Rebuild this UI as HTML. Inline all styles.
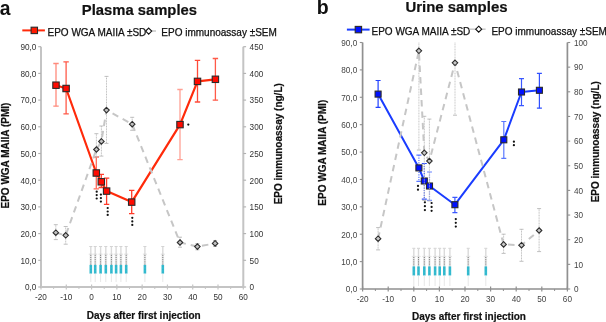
<!DOCTYPE html><html><head><meta charset="utf-8"><style>html,body{margin:0;padding:0;background:#fff;}svg{display:block;will-change:transform;}text{font-family:"Liberation Sans",sans-serif;}</style></head><body>
<svg width="606" height="322" viewBox="0 0 606 322">
<rect width="606" height="322" fill="#fff"/>
<path d="M41 46.7V287H243.3V46.7" fill="none" stroke="#c4c4c4" stroke-width="2"/>
<path d="M38.2 287H41" stroke="#b0b0b0" stroke-width="1.1"/>
<text x="36.4" y="290.3" font-size="8.2" text-anchor="end" font-weight="normal" fill="#333">0,0</text>
<path d="M38.2 260.3H41" stroke="#b0b0b0" stroke-width="1.1"/>
<text x="36.4" y="263.6" font-size="8.2" text-anchor="end" font-weight="normal" fill="#333">10,0</text>
<path d="M38.2 233.6H41" stroke="#b0b0b0" stroke-width="1.1"/>
<text x="36.4" y="236.9" font-size="8.2" text-anchor="end" font-weight="normal" fill="#333">20,0</text>
<path d="M38.2 206.9H41" stroke="#b0b0b0" stroke-width="1.1"/>
<text x="36.4" y="210.2" font-size="8.2" text-anchor="end" font-weight="normal" fill="#333">30,0</text>
<path d="M38.2 180.2H41" stroke="#b0b0b0" stroke-width="1.1"/>
<text x="36.4" y="183.5" font-size="8.2" text-anchor="end" font-weight="normal" fill="#333">40,0</text>
<path d="M38.2 153.5H41" stroke="#b0b0b0" stroke-width="1.1"/>
<text x="36.4" y="156.8" font-size="8.2" text-anchor="end" font-weight="normal" fill="#333">50,0</text>
<path d="M38.2 126.8H41" stroke="#b0b0b0" stroke-width="1.1"/>
<text x="36.4" y="130.1" font-size="8.2" text-anchor="end" font-weight="normal" fill="#333">60,0</text>
<path d="M38.2 100.1H41" stroke="#b0b0b0" stroke-width="1.1"/>
<text x="36.4" y="103.4" font-size="8.2" text-anchor="end" font-weight="normal" fill="#333">70,0</text>
<path d="M38.2 73.4H41" stroke="#b0b0b0" stroke-width="1.1"/>
<text x="36.4" y="76.7" font-size="8.2" text-anchor="end" font-weight="normal" fill="#333">80,0</text>
<path d="M38.2 46.7H41" stroke="#b0b0b0" stroke-width="1.1"/>
<text x="36.4" y="50" font-size="8.2" text-anchor="end" font-weight="normal" fill="#333">90,0</text>
<path d="M243.3 287H246.1" stroke="#b0b0b0" stroke-width="1.1"/>
<text x="249.6" y="290.3" font-size="8.2" text-anchor="start" font-weight="normal" fill="#333">0</text>
<path d="M243.3 260.3H246.1" stroke="#b0b0b0" stroke-width="1.1"/>
<text x="249.6" y="263.6" font-size="8.2" text-anchor="start" font-weight="normal" fill="#333">50</text>
<path d="M243.3 233.6H246.1" stroke="#b0b0b0" stroke-width="1.1"/>
<text x="249.6" y="236.9" font-size="8.2" text-anchor="start" font-weight="normal" fill="#333">100</text>
<path d="M243.3 206.9H246.1" stroke="#b0b0b0" stroke-width="1.1"/>
<text x="249.6" y="210.2" font-size="8.2" text-anchor="start" font-weight="normal" fill="#333">150</text>
<path d="M243.3 180.2H246.1" stroke="#b0b0b0" stroke-width="1.1"/>
<text x="249.6" y="183.5" font-size="8.2" text-anchor="start" font-weight="normal" fill="#333">200</text>
<path d="M243.3 153.5H246.1" stroke="#b0b0b0" stroke-width="1.1"/>
<text x="249.6" y="156.8" font-size="8.2" text-anchor="start" font-weight="normal" fill="#333">250</text>
<path d="M243.3 126.8H246.1" stroke="#b0b0b0" stroke-width="1.1"/>
<text x="249.6" y="130.1" font-size="8.2" text-anchor="start" font-weight="normal" fill="#333">300</text>
<path d="M243.3 100.1H246.1" stroke="#b0b0b0" stroke-width="1.1"/>
<text x="249.6" y="103.4" font-size="8.2" text-anchor="start" font-weight="normal" fill="#333">350</text>
<path d="M243.3 73.4H246.1" stroke="#b0b0b0" stroke-width="1.1"/>
<text x="249.6" y="76.7" font-size="8.2" text-anchor="start" font-weight="normal" fill="#333">400</text>
<path d="M243.3 46.7H246.1" stroke="#b0b0b0" stroke-width="1.1"/>
<text x="249.6" y="50" font-size="8.2" text-anchor="start" font-weight="normal" fill="#333">450</text>
<path d="M41 284.5V289.5" stroke="#c4c4c4" stroke-width="1.2"/>
<text x="41" y="299.8" font-size="8.2" text-anchor="middle" font-weight="normal" fill="#333">-20</text>
<path d="M53.64 287V289" stroke="#c4c4c4" stroke-width="1"/>
<path d="M66.29 284.5V289.5" stroke="#c4c4c4" stroke-width="1.2"/>
<text x="66.29" y="299.8" font-size="8.2" text-anchor="middle" font-weight="normal" fill="#333">-10</text>
<path d="M78.93 287V289" stroke="#c4c4c4" stroke-width="1"/>
<path d="M91.58 284.5V289.5" stroke="#c4c4c4" stroke-width="1.2"/>
<text x="91.58" y="299.8" font-size="8.2" text-anchor="middle" font-weight="normal" fill="#333">0</text>
<path d="M104.22 287V289" stroke="#c4c4c4" stroke-width="1"/>
<path d="M116.86 284.5V289.5" stroke="#c4c4c4" stroke-width="1.2"/>
<text x="116.86" y="299.8" font-size="8.2" text-anchor="middle" font-weight="normal" fill="#333">10</text>
<path d="M129.51 287V289" stroke="#c4c4c4" stroke-width="1"/>
<path d="M142.15 284.5V289.5" stroke="#c4c4c4" stroke-width="1.2"/>
<text x="142.15" y="299.8" font-size="8.2" text-anchor="middle" font-weight="normal" fill="#333">20</text>
<path d="M154.79 287V289" stroke="#c4c4c4" stroke-width="1"/>
<path d="M167.44 284.5V289.5" stroke="#c4c4c4" stroke-width="1.2"/>
<text x="167.44" y="299.8" font-size="8.2" text-anchor="middle" font-weight="normal" fill="#333">30</text>
<path d="M180.08 287V289" stroke="#c4c4c4" stroke-width="1"/>
<path d="M192.72 284.5V289.5" stroke="#c4c4c4" stroke-width="1.2"/>
<text x="192.72" y="299.8" font-size="8.2" text-anchor="middle" font-weight="normal" fill="#333">40</text>
<path d="M205.37 287V289" stroke="#c4c4c4" stroke-width="1"/>
<path d="M218.01 284.5V289.5" stroke="#c4c4c4" stroke-width="1.2"/>
<text x="218.01" y="299.8" font-size="8.2" text-anchor="middle" font-weight="normal" fill="#333">50</text>
<path d="M230.66 287V289" stroke="#c4c4c4" stroke-width="1"/>
<path d="M243.3 284.5V289.5" stroke="#c4c4c4" stroke-width="1.2"/>
<text x="243.3" y="299.8" font-size="8.2" text-anchor="middle" font-weight="normal" fill="#333">60</text>
<path d="M362.6 42.5V289H567.4V42.5" fill="none" stroke="#909090" stroke-width="1.7"/>
<path d="M359.8 289H362.6" stroke="#909090" stroke-width="1.1"/>
<text x="357.2" y="292.3" font-size="8.2" text-anchor="end" font-weight="normal" fill="#444">0,0</text>
<path d="M359.8 261.61H362.6" stroke="#909090" stroke-width="1.1"/>
<text x="357.2" y="264.91" font-size="8.2" text-anchor="end" font-weight="normal" fill="#444">10,0</text>
<path d="M359.8 234.22H362.6" stroke="#909090" stroke-width="1.1"/>
<text x="357.2" y="237.52" font-size="8.2" text-anchor="end" font-weight="normal" fill="#444">20,0</text>
<path d="M359.8 206.83H362.6" stroke="#909090" stroke-width="1.1"/>
<text x="357.2" y="210.13" font-size="8.2" text-anchor="end" font-weight="normal" fill="#444">30,0</text>
<path d="M359.8 179.44H362.6" stroke="#909090" stroke-width="1.1"/>
<text x="357.2" y="182.74" font-size="8.2" text-anchor="end" font-weight="normal" fill="#444">40,0</text>
<path d="M359.8 152.06H362.6" stroke="#909090" stroke-width="1.1"/>
<text x="357.2" y="155.36" font-size="8.2" text-anchor="end" font-weight="normal" fill="#444">50,0</text>
<path d="M359.8 124.67H362.6" stroke="#909090" stroke-width="1.1"/>
<text x="357.2" y="127.97" font-size="8.2" text-anchor="end" font-weight="normal" fill="#444">60,0</text>
<path d="M359.8 97.28H362.6" stroke="#909090" stroke-width="1.1"/>
<text x="357.2" y="100.58" font-size="8.2" text-anchor="end" font-weight="normal" fill="#444">70,0</text>
<path d="M359.8 69.89H362.6" stroke="#909090" stroke-width="1.1"/>
<text x="357.2" y="73.19" font-size="8.2" text-anchor="end" font-weight="normal" fill="#444">80,0</text>
<path d="M359.8 42.5H362.6" stroke="#909090" stroke-width="1.1"/>
<text x="357.2" y="45.8" font-size="8.2" text-anchor="end" font-weight="normal" fill="#444">90,0</text>
<path d="M567.4 289H570.2" stroke="#909090" stroke-width="1.1"/>
<text x="574" y="292.3" font-size="8.2" text-anchor="start" font-weight="normal" fill="#444">0</text>
<path d="M567.4 264.35H570.2" stroke="#909090" stroke-width="1.1"/>
<text x="574" y="267.65" font-size="8.2" text-anchor="start" font-weight="normal" fill="#444">10</text>
<path d="M567.4 239.7H570.2" stroke="#909090" stroke-width="1.1"/>
<text x="574" y="243" font-size="8.2" text-anchor="start" font-weight="normal" fill="#444">20</text>
<path d="M567.4 215.05H570.2" stroke="#909090" stroke-width="1.1"/>
<text x="574" y="218.35" font-size="8.2" text-anchor="start" font-weight="normal" fill="#444">30</text>
<path d="M567.4 190.4H570.2" stroke="#909090" stroke-width="1.1"/>
<text x="574" y="193.7" font-size="8.2" text-anchor="start" font-weight="normal" fill="#444">40</text>
<path d="M567.4 165.75H570.2" stroke="#909090" stroke-width="1.1"/>
<text x="574" y="169.05" font-size="8.2" text-anchor="start" font-weight="normal" fill="#444">50</text>
<path d="M567.4 141.1H570.2" stroke="#909090" stroke-width="1.1"/>
<text x="574" y="144.4" font-size="8.2" text-anchor="start" font-weight="normal" fill="#444">60</text>
<path d="M567.4 116.45H570.2" stroke="#909090" stroke-width="1.1"/>
<text x="574" y="119.75" font-size="8.2" text-anchor="start" font-weight="normal" fill="#444">70</text>
<path d="M567.4 91.8H570.2" stroke="#909090" stroke-width="1.1"/>
<text x="574" y="95.1" font-size="8.2" text-anchor="start" font-weight="normal" fill="#444">80</text>
<path d="M567.4 67.15H570.2" stroke="#909090" stroke-width="1.1"/>
<text x="574" y="70.45" font-size="8.2" text-anchor="start" font-weight="normal" fill="#444">90</text>
<path d="M567.4 42.5H570.2" stroke="#909090" stroke-width="1.1"/>
<text x="574" y="45.8" font-size="8.2" text-anchor="start" font-weight="normal" fill="#444">100</text>
<path d="M362.6 286.5V291.5" stroke="#909090" stroke-width="1.2"/>
<text x="362.6" y="301.8" font-size="8.2" text-anchor="middle" font-weight="normal" fill="#444">-20</text>
<path d="M375.4 289V291" stroke="#909090" stroke-width="1"/>
<path d="M388.2 286.5V291.5" stroke="#909090" stroke-width="1.2"/>
<text x="388.2" y="301.8" font-size="8.2" text-anchor="middle" font-weight="normal" fill="#444">-10</text>
<path d="M401 289V291" stroke="#909090" stroke-width="1"/>
<path d="M413.8 286.5V291.5" stroke="#909090" stroke-width="1.2"/>
<text x="413.8" y="301.8" font-size="8.2" text-anchor="middle" font-weight="normal" fill="#444">0</text>
<path d="M426.6 289V291" stroke="#909090" stroke-width="1"/>
<path d="M439.4 286.5V291.5" stroke="#909090" stroke-width="1.2"/>
<text x="439.4" y="301.8" font-size="8.2" text-anchor="middle" font-weight="normal" fill="#444">10</text>
<path d="M452.2 289V291" stroke="#909090" stroke-width="1"/>
<path d="M465 286.5V291.5" stroke="#909090" stroke-width="1.2"/>
<text x="465" y="301.8" font-size="8.2" text-anchor="middle" font-weight="normal" fill="#444">20</text>
<path d="M477.8 289V291" stroke="#909090" stroke-width="1"/>
<path d="M490.6 286.5V291.5" stroke="#909090" stroke-width="1.2"/>
<text x="490.6" y="301.8" font-size="8.2" text-anchor="middle" font-weight="normal" fill="#444">30</text>
<path d="M503.4 289V291" stroke="#909090" stroke-width="1"/>
<path d="M516.2 286.5V291.5" stroke="#909090" stroke-width="1.2"/>
<text x="516.2" y="301.8" font-size="8.2" text-anchor="middle" font-weight="normal" fill="#444">40</text>
<path d="M529 289V291" stroke="#909090" stroke-width="1"/>
<path d="M541.8 286.5V291.5" stroke="#909090" stroke-width="1.2"/>
<text x="541.8" y="301.8" font-size="8.2" text-anchor="middle" font-weight="normal" fill="#444">50</text>
<path d="M554.6 289V291" stroke="#909090" stroke-width="1"/>
<path d="M567.4 286.5V291.5" stroke="#909090" stroke-width="1.2"/>
<text x="567.4" y="301.8" font-size="8.2" text-anchor="middle" font-weight="normal" fill="#444">60</text>
<text x="-0.2" y="14.6" font-size="19.3" text-anchor="start" font-weight="bold" fill="#111">a</text>
<text x="316.8" y="14.3" font-size="19.5" text-anchor="start" font-weight="bold" fill="#111">b</text>
<text x="81.8" y="15" font-size="14.8" text-anchor="start" font-weight="bold" fill="#111" stroke="#111" stroke-width="0.2">Plasma samples</text>
<text x="405.4" y="11.8" font-size="14.95" text-anchor="start" font-weight="bold" fill="#111" stroke="#111" stroke-width="0.2">Urine samples</text>
<text x="9.4" y="208.5" font-size="10" text-anchor="start" font-weight="bold" fill="#111" transform="rotate(-90 9.4 208.5)" stroke="#111" stroke-width="0.2">EPO WGA MAIIA (PMI)</text>
<text x="281.8" y="204.3" font-size="10" text-anchor="start" font-weight="bold" fill="#111" transform="rotate(-90 281.8 204.3)" stroke="#111" stroke-width="0.2">EPO immunoassay (ng/L)</text>
<text x="326" y="205.7" font-size="10" text-anchor="start" font-weight="bold" fill="#111" transform="rotate(-90 326 205.7)" stroke="#111" stroke-width="0.2">EPO WGA MAIIA (PMI)</text>
<text x="598.6" y="202.3" font-size="10" text-anchor="start" font-weight="bold" fill="#111" transform="rotate(-90 598.6 202.3)" stroke="#111" stroke-width="0.2">EPO immunoassay (ng/L)</text>
<text x="86.8" y="319.3" font-size="10" text-anchor="start" font-weight="bold" fill="#111" stroke="#111" stroke-width="0.2">Days after first injection</text>
<text x="412" y="319.8" font-size="10" text-anchor="start" font-weight="bold" fill="#111" stroke="#111" stroke-width="0.2">Days after first injection</text>
<path d="M22.3 30.4H44.9" stroke="#ff2a0a" stroke-width="2"/>
<rect x="31.1" y="27.2" width="6.4" height="6.4" fill="#ff1a00" stroke="#2a2a2a" stroke-width="1.1"/>
<text x="47.5" y="35.5" font-size="10" text-anchor="start" font-weight="normal" fill="#111" stroke="#111" stroke-width="0.25">EPO WGA MAIIA ±SD</text>
<path d="M146 31H156" stroke="#c8c8c8" stroke-width="1.5"/>
<path d="M148.7 28.1L151.7 31.1L148.7 34.1L145.7 31.1Z" fill="#fff" stroke="#111" stroke-width="1.1"/>
<text x="161.3" y="35.5" font-size="10" text-anchor="start" font-weight="normal" fill="#111" stroke="#111" stroke-width="0.25">EPO immunoassay ±SEM</text>
<path d="M346.9 29.6H369.6" stroke="#1a3cff" stroke-width="2"/>
<rect x="355.2" y="26.4" width="6.4" height="6.4" fill="#0010ff" stroke="#2a2a2a" stroke-width="1.1"/>
<text x="371.5" y="34.8" font-size="10" text-anchor="start" font-weight="normal" fill="#111" stroke="#111" stroke-width="0.25">EPO WGA MAIIA ±SD</text>
<path d="M469.5 29.2H485.6" stroke="#c8c8c8" stroke-width="1.5"/>
<path d="M478.7 26.2L481.7 29.2L478.7 32.2L475.7 29.2Z" fill="#fff" stroke="#111" stroke-width="1.1"/>
<text x="491.4" y="34.8" font-size="10" text-anchor="start" font-weight="normal" fill="#111" stroke="#111" stroke-width="0.25">EPO immunoassay ±SEM</text>
<path d="M89.3 246.5H92.3" stroke="#d0d0d0" stroke-width="1"/>
<path d="M90.8 246.5V254.2" stroke="#dadada" stroke-width="1.4"/>
<path d="M88.8 254.2H92.8" stroke="#d4d4d4" stroke-width="0.8"/>
<path d="M90.8 254.2V264.9" stroke="#ececec" stroke-width="2.6"/>
<path d="M90.8 254.7V264.9" stroke="#7a7a7a" stroke-width="1" stroke-dasharray="1.2 1"/>
<rect x="89.5" y="264.9" width="2.6" height="8.7" fill="#34bcd0"/>
<path d="M90.8 265.9V272.6" stroke="#2a90b0" stroke-width="0.6" stroke-dasharray="1 2" opacity="0.6"/>
<path d="M90.8 273.6V282" stroke="#dcdcdc" stroke-width="0.7"/>
<path d="M93.7 246.5H96.7" stroke="#d0d0d0" stroke-width="1"/>
<path d="M95.2 246.5V254.2" stroke="#dadada" stroke-width="1.4"/>
<path d="M93.2 254.2H97.2" stroke="#d4d4d4" stroke-width="0.8"/>
<path d="M95.2 254.2V264.9" stroke="#ececec" stroke-width="2.6"/>
<path d="M95.2 254.7V264.9" stroke="#7a7a7a" stroke-width="1" stroke-dasharray="1.2 1"/>
<rect x="93.9" y="264.9" width="2.6" height="8.7" fill="#34bcd0"/>
<path d="M95.2 265.9V272.6" stroke="#2a90b0" stroke-width="0.6" stroke-dasharray="1 2" opacity="0.6"/>
<path d="M95.2 273.6V282" stroke="#dcdcdc" stroke-width="0.7"/>
<path d="M99.1 246.5H102.1" stroke="#d0d0d0" stroke-width="1"/>
<path d="M100.6 246.5V254.2" stroke="#dadada" stroke-width="1.4"/>
<path d="M98.6 254.2H102.6" stroke="#d4d4d4" stroke-width="0.8"/>
<path d="M100.6 254.2V264.9" stroke="#ececec" stroke-width="2.6"/>
<path d="M100.6 254.7V264.9" stroke="#7a7a7a" stroke-width="1" stroke-dasharray="1.2 1"/>
<rect x="99.3" y="264.9" width="2.6" height="8.7" fill="#34bcd0"/>
<path d="M100.6 265.9V272.6" stroke="#2a90b0" stroke-width="0.6" stroke-dasharray="1 2" opacity="0.6"/>
<path d="M100.6 273.6V282" stroke="#dcdcdc" stroke-width="0.7"/>
<path d="M104.3 246.5H107.3" stroke="#d0d0d0" stroke-width="1"/>
<path d="M105.8 246.5V254.2" stroke="#dadada" stroke-width="1.4"/>
<path d="M103.8 254.2H107.8" stroke="#d4d4d4" stroke-width="0.8"/>
<path d="M105.8 254.2V264.9" stroke="#ececec" stroke-width="2.6"/>
<path d="M105.8 254.7V264.9" stroke="#7a7a7a" stroke-width="1" stroke-dasharray="1.2 1"/>
<rect x="104.5" y="264.9" width="2.6" height="8.7" fill="#34bcd0"/>
<path d="M105.8 265.9V272.6" stroke="#2a90b0" stroke-width="0.6" stroke-dasharray="1 2" opacity="0.6"/>
<path d="M105.8 273.6V282" stroke="#dcdcdc" stroke-width="0.7"/>
<path d="M109.9 246.5H112.9" stroke="#d0d0d0" stroke-width="1"/>
<path d="M111.4 246.5V254.2" stroke="#dadada" stroke-width="1.4"/>
<path d="M109.4 254.2H113.4" stroke="#d4d4d4" stroke-width="0.8"/>
<path d="M111.4 254.2V264.9" stroke="#ececec" stroke-width="2.6"/>
<path d="M111.4 254.7V264.9" stroke="#7a7a7a" stroke-width="1" stroke-dasharray="1.2 1"/>
<rect x="110.1" y="264.9" width="2.6" height="8.7" fill="#34bcd0"/>
<path d="M111.4 265.9V272.6" stroke="#2a90b0" stroke-width="0.6" stroke-dasharray="1 2" opacity="0.6"/>
<path d="M111.4 273.6V282" stroke="#dcdcdc" stroke-width="0.7"/>
<path d="M114.6 246.5H117.6" stroke="#d0d0d0" stroke-width="1"/>
<path d="M116.1 246.5V254.2" stroke="#dadada" stroke-width="1.4"/>
<path d="M114.1 254.2H118.1" stroke="#d4d4d4" stroke-width="0.8"/>
<path d="M116.1 254.2V264.9" stroke="#ececec" stroke-width="2.6"/>
<path d="M116.1 254.7V264.9" stroke="#7a7a7a" stroke-width="1" stroke-dasharray="1.2 1"/>
<rect x="114.8" y="264.9" width="2.6" height="8.7" fill="#34bcd0"/>
<path d="M116.1 265.9V272.6" stroke="#2a90b0" stroke-width="0.6" stroke-dasharray="1 2" opacity="0.6"/>
<path d="M116.1 273.6V282" stroke="#dcdcdc" stroke-width="0.7"/>
<path d="M119.4 246.5H122.4" stroke="#d0d0d0" stroke-width="1"/>
<path d="M120.9 246.5V254.2" stroke="#dadada" stroke-width="1.4"/>
<path d="M118.9 254.2H122.9" stroke="#d4d4d4" stroke-width="0.8"/>
<path d="M120.9 254.2V264.9" stroke="#ececec" stroke-width="2.6"/>
<path d="M120.9 254.7V264.9" stroke="#7a7a7a" stroke-width="1" stroke-dasharray="1.2 1"/>
<rect x="119.6" y="264.9" width="2.6" height="8.7" fill="#34bcd0"/>
<path d="M120.9 265.9V272.6" stroke="#2a90b0" stroke-width="0.6" stroke-dasharray="1 2" opacity="0.6"/>
<path d="M120.9 273.6V282" stroke="#dcdcdc" stroke-width="0.7"/>
<path d="M124.7 246.5H127.7" stroke="#d0d0d0" stroke-width="1"/>
<path d="M126.2 246.5V254.2" stroke="#dadada" stroke-width="1.4"/>
<path d="M124.2 254.2H128.2" stroke="#d4d4d4" stroke-width="0.8"/>
<path d="M126.2 254.2V264.9" stroke="#ececec" stroke-width="2.6"/>
<path d="M126.2 254.7V264.9" stroke="#7a7a7a" stroke-width="1" stroke-dasharray="1.2 1"/>
<rect x="124.9" y="264.9" width="2.6" height="8.7" fill="#34bcd0"/>
<path d="M126.2 265.9V272.6" stroke="#2a90b0" stroke-width="0.6" stroke-dasharray="1 2" opacity="0.6"/>
<path d="M126.2 273.6V282" stroke="#dcdcdc" stroke-width="0.7"/>
<path d="M143.4 246.5H146.4" stroke="#d0d0d0" stroke-width="1"/>
<path d="M144.9 246.5V254.2" stroke="#dadada" stroke-width="1.4"/>
<path d="M142.9 254.2H146.9" stroke="#d4d4d4" stroke-width="0.8"/>
<path d="M144.9 254.2V264.9" stroke="#ececec" stroke-width="2.6"/>
<path d="M144.9 254.7V264.9" stroke="#7a7a7a" stroke-width="1" stroke-dasharray="1.2 1"/>
<rect x="143.6" y="264.9" width="2.6" height="8.7" fill="#34bcd0"/>
<path d="M144.9 265.9V272.6" stroke="#2a90b0" stroke-width="0.6" stroke-dasharray="1 2" opacity="0.6"/>
<path d="M144.9 273.6V282" stroke="#dcdcdc" stroke-width="0.7"/>
<path d="M161.3 246.5H164.3" stroke="#d0d0d0" stroke-width="1"/>
<path d="M162.8 246.5V254.2" stroke="#dadada" stroke-width="1.4"/>
<path d="M160.8 254.2H164.8" stroke="#d4d4d4" stroke-width="0.8"/>
<path d="M162.8 254.2V264.9" stroke="#ececec" stroke-width="2.6"/>
<path d="M162.8 254.7V264.9" stroke="#7a7a7a" stroke-width="1" stroke-dasharray="1.2 1"/>
<rect x="161.5" y="264.9" width="2.6" height="8.7" fill="#34bcd0"/>
<path d="M162.8 265.9V272.6" stroke="#2a90b0" stroke-width="0.6" stroke-dasharray="1 2" opacity="0.6"/>
<path d="M162.8 273.6V282" stroke="#dcdcdc" stroke-width="0.7"/>
<path d="M56 63.5V106.2" stroke="#ff8a7c" stroke-width="1.3" fill="none"/>
<path d="M53.3 63.5H58.7M53.3 106.2H58.7" stroke="#ff8a7c" stroke-width="1.3" fill="none"/>
<path d="M66.1 61.9V113.9" stroke="#ff5a48" stroke-width="1.3" fill="none"/>
<path d="M63.4 61.9H68.8M63.4 113.9H68.8" stroke="#ff5a48" stroke-width="1.3" fill="none"/>
<path d="M96.3 157V188.8" stroke="#ff6a5a" stroke-width="1.3" fill="none"/>
<path d="M93.6 157H99M93.6 188.8H99" stroke="#ff6a5a" stroke-width="1.3" fill="none"/>
<path d="M101.3 174.3V187.5" stroke="#ff4030" stroke-width="1.3" fill="none"/>
<path d="M98.6 174.3H104M98.6 187.5H104" stroke="#ff4030" stroke-width="1.3" fill="none"/>
<path d="M106.6 178.1V204.3" stroke="#ff3a28" stroke-width="1.3" fill="none"/>
<path d="M103.9 178.1H109.3M103.9 204.3H109.3" stroke="#ff3a28" stroke-width="1.3" fill="none"/>
<path d="M131.7 190.4V213.6" stroke="#ff3a28" stroke-width="1.3" fill="none"/>
<path d="M129 190.4H134.4M129 213.6H134.4" stroke="#ff3a28" stroke-width="1.3" fill="none"/>
<path d="M180 89.5V159.6" stroke="#ffa094" stroke-width="1.3" fill="none"/>
<path d="M177.3 89.5H182.7M177.3 159.6H182.7" stroke="#ffa094" stroke-width="1.3" fill="none"/>
<path d="M197.5 60.4V102" stroke="#ff4a38" stroke-width="1.3" fill="none"/>
<path d="M194.8 60.4H200.2M194.8 102H200.2" stroke="#ff4a38" stroke-width="1.3" fill="none"/>
<path d="M215.4 58.5V100.2" stroke="#ff5a48" stroke-width="1.3" fill="none"/>
<path d="M212.7 58.5H218.1M212.7 100.2H218.1" stroke="#ff5a48" stroke-width="1.3" fill="none"/>
<polyline points="56,85.2 66.1,88.5 96.3,173 101.3,181.8 106.6,191.1 131.7,202.1 180,124.6 197.5,81.4 215.4,79.3" fill="none" stroke="#ff2a0a" stroke-width="2.2" stroke-linejoin="round"/>
<rect x="52.8" y="82" width="6.4" height="6.4" fill="#ff0a00" stroke="#2a2a2a" stroke-width="1.1"/>
<rect x="62.9" y="85.3" width="6.4" height="6.4" fill="#ff0a00" stroke="#2a2a2a" stroke-width="1.1"/>
<rect x="93.1" y="169.8" width="6.4" height="6.4" fill="#ff0a00" stroke="#2a2a2a" stroke-width="1.1"/>
<rect x="98.1" y="178.6" width="6.4" height="6.4" fill="#ff0a00" stroke="#2a2a2a" stroke-width="1.1"/>
<rect x="103.4" y="187.9" width="6.4" height="6.4" fill="#ff0a00" stroke="#2a2a2a" stroke-width="1.1"/>
<rect x="128.5" y="198.9" width="6.4" height="6.4" fill="#ff0a00" stroke="#2a2a2a" stroke-width="1.1"/>
<rect x="176.8" y="121.4" width="6.4" height="6.4" fill="#ff0a00" stroke="#2a2a2a" stroke-width="1.1"/>
<rect x="194.3" y="78.2" width="6.4" height="6.4" fill="#ff0a00" stroke="#2a2a2a" stroke-width="1.1"/>
<rect x="212.2" y="76.1" width="6.4" height="6.4" fill="#ff0a00" stroke="#2a2a2a" stroke-width="1.1"/>
<path d="M55.8 224.7V239.6" stroke="#b8b8b8" stroke-width="0.9" stroke-dasharray="1 0.6" fill="none"/>
<path d="M53.8 224.7H57.8M53.8 239.6H57.8" stroke="#b8b8b8" stroke-width="0.9" fill="none"/>
<path d="M65.7 226.5V244.2" stroke="#b8b8b8" stroke-width="0.9" stroke-dasharray="1 0.6" fill="none"/>
<path d="M63.7 226.5H67.7M63.7 244.2H67.7" stroke="#b8b8b8" stroke-width="0.9" fill="none"/>
<path d="M96.4 133.7V157" stroke="#b8b8b8" stroke-width="0.9" stroke-dasharray="1 0.6" fill="none"/>
<path d="M94.4 133.7H98.4M94.4 157H98.4" stroke="#b8b8b8" stroke-width="0.9" fill="none"/>
<path d="M101.4 126V156.1" stroke="#b8b8b8" stroke-width="0.9" stroke-dasharray="1 0.6" fill="none"/>
<path d="M99.4 126H103.4M99.4 156.1H103.4" stroke="#b8b8b8" stroke-width="0.9" fill="none"/>
<path d="M106.5 76.4V143.4" stroke="#b8b8b8" stroke-width="0.9" stroke-dasharray="1 0.6" fill="none"/>
<path d="M104.5 76.4H108.5M104.5 143.4H108.5" stroke="#b8b8b8" stroke-width="0.9" fill="none"/>
<path d="M132.2 117.3V130.3" stroke="#b8b8b8" stroke-width="0.9" stroke-dasharray="1 0.6" fill="none"/>
<path d="M130.2 117.3H134.2M130.2 130.3H134.2" stroke="#b8b8b8" stroke-width="0.9" fill="none"/>
<path d="M180 237.2V247.2" stroke="#b8b8b8" stroke-width="0.9" stroke-dasharray="1 0.6" fill="none"/>
<path d="M178 237.2H182M178 247.2H182" stroke="#b8b8b8" stroke-width="0.9" fill="none"/>
<path d="M197.4 243.5V249.8" stroke="#b8b8b8" stroke-width="0.9" stroke-dasharray="1 0.6" fill="none"/>
<path d="M195.4 243.5H199.4M195.4 249.8H199.4" stroke="#b8b8b8" stroke-width="0.9" fill="none"/>
<path d="M215.1 240.5V246.5" stroke="#b8b8b8" stroke-width="0.9" stroke-dasharray="1 0.6" fill="none"/>
<path d="M213.1 240.5H217.1M213.1 246.5H217.1" stroke="#b8b8b8" stroke-width="0.9" fill="none"/>
<polyline points="55.8,232.7 65.7,235.3 96.4,149.5 101.4,141.4 106.5,110.1 132.2,124.2 180,242.5 197.4,246.6 215.1,243.4" fill="none" stroke="#c6c6c6" stroke-width="2.0" stroke-dasharray="6.5 5" stroke-linejoin="round"/>
<path d="M55.8 229.95L58.55 232.7L55.8 235.45L53.05 232.7Z" fill="#c2c2c2" stroke="#2e2e2e" stroke-width="1.1"/>
<path d="M65.7 232.55L68.45 235.3L65.7 238.05L62.95 235.3Z" fill="#c2c2c2" stroke="#2e2e2e" stroke-width="1.1"/>
<path d="M96.4 146.75L99.15 149.5L96.4 152.25L93.65 149.5Z" fill="#c2c2c2" stroke="#2e2e2e" stroke-width="1.1"/>
<path d="M101.4 138.65L104.15 141.4L101.4 144.15L98.65 141.4Z" fill="#c2c2c2" stroke="#2e2e2e" stroke-width="1.1"/>
<path d="M106.5 107.35L109.25 110.1L106.5 112.85L103.75 110.1Z" fill="#c2c2c2" stroke="#2e2e2e" stroke-width="1.1"/>
<path d="M132.2 121.45L134.95 124.2L132.2 126.95L129.45 124.2Z" fill="#c2c2c2" stroke="#2e2e2e" stroke-width="1.1"/>
<path d="M180 239.75L182.75 242.5L180 245.25L177.25 242.5Z" fill="#c2c2c2" stroke="#2e2e2e" stroke-width="1.1"/>
<path d="M197.4 243.85L200.15 246.6L197.4 249.35L194.65 246.6Z" fill="#c2c2c2" stroke="#2e2e2e" stroke-width="1.1"/>
<path d="M215.1 240.65L217.85 243.4L215.1 246.15L212.35 243.4Z" fill="#c2c2c2" stroke="#2e2e2e" stroke-width="1.1"/>
<circle cx="96.7" cy="191.7" r="1.12" fill="#111"/>
<circle cx="96.7" cy="195.1" r="1.12" fill="#111"/>
<circle cx="96.7" cy="198.5" r="1.12" fill="#111"/>
<circle cx="100.9" cy="194.6" r="1.12" fill="#111"/>
<circle cx="100.9" cy="198.1" r="1.12" fill="#111"/>
<circle cx="100.9" cy="201.6" r="1.12" fill="#111"/>
<circle cx="107.7" cy="208" r="1.12" fill="#111"/>
<circle cx="107.7" cy="211.5" r="1.12" fill="#111"/>
<circle cx="107.7" cy="214.9" r="1.12" fill="#111"/>
<circle cx="132.3" cy="217.8" r="1.12" fill="#111"/>
<circle cx="132.3" cy="221.4" r="1.12" fill="#111"/>
<circle cx="132.3" cy="224.9" r="1.12" fill="#111"/>
<circle cx="188.3" cy="124.6" r="1.12" fill="#111"/>
<path d="M412.3 248.3H415.3" stroke="#d0d0d0" stroke-width="1"/>
<path d="M413.8 248.3V256.4" stroke="#dadada" stroke-width="1.4"/>
<path d="M411.8 256.4H415.8" stroke="#d4d4d4" stroke-width="0.8"/>
<path d="M413.8 256.4V266.4" stroke="#ececec" stroke-width="2.6"/>
<path d="M413.8 256.9V266.4" stroke="#7a7a7a" stroke-width="1" stroke-dasharray="1.2 1"/>
<rect x="412.5" y="266.4" width="2.6" height="9.1" fill="#34bcd0"/>
<path d="M413.8 267.4V274.5" stroke="#2a90b0" stroke-width="0.6" stroke-dasharray="1 2" opacity="0.6"/>
<path d="M413.8 275.5V286" stroke="#dcdcdc" stroke-width="0.7"/>
<path d="M417 248.3H420" stroke="#d0d0d0" stroke-width="1"/>
<path d="M418.5 248.3V256.4" stroke="#dadada" stroke-width="1.4"/>
<path d="M416.5 256.4H420.5" stroke="#d4d4d4" stroke-width="0.8"/>
<path d="M418.5 256.4V266.4" stroke="#ececec" stroke-width="2.6"/>
<path d="M418.5 256.9V266.4" stroke="#7a7a7a" stroke-width="1" stroke-dasharray="1.2 1"/>
<rect x="417.2" y="266.4" width="2.6" height="9.1" fill="#34bcd0"/>
<path d="M418.5 267.4V274.5" stroke="#2a90b0" stroke-width="0.6" stroke-dasharray="1 2" opacity="0.6"/>
<path d="M418.5 275.5V286" stroke="#dcdcdc" stroke-width="0.7"/>
<path d="M422.8 248.3H425.8" stroke="#d0d0d0" stroke-width="1"/>
<path d="M424.3 248.3V256.4" stroke="#dadada" stroke-width="1.4"/>
<path d="M422.3 256.4H426.3" stroke="#d4d4d4" stroke-width="0.8"/>
<path d="M424.3 256.4V266.4" stroke="#ececec" stroke-width="2.6"/>
<path d="M424.3 256.9V266.4" stroke="#7a7a7a" stroke-width="1" stroke-dasharray="1.2 1"/>
<rect x="423" y="266.4" width="2.6" height="9.1" fill="#34bcd0"/>
<path d="M424.3 267.4V274.5" stroke="#2a90b0" stroke-width="0.6" stroke-dasharray="1 2" opacity="0.6"/>
<path d="M424.3 275.5V286" stroke="#dcdcdc" stroke-width="0.7"/>
<path d="M427.9 248.3H430.9" stroke="#d0d0d0" stroke-width="1"/>
<path d="M429.4 248.3V256.4" stroke="#dadada" stroke-width="1.4"/>
<path d="M427.4 256.4H431.4" stroke="#d4d4d4" stroke-width="0.8"/>
<path d="M429.4 256.4V266.4" stroke="#ececec" stroke-width="2.6"/>
<path d="M429.4 256.9V266.4" stroke="#7a7a7a" stroke-width="1" stroke-dasharray="1.2 1"/>
<rect x="428.1" y="266.4" width="2.6" height="9.1" fill="#34bcd0"/>
<path d="M429.4 267.4V274.5" stroke="#2a90b0" stroke-width="0.6" stroke-dasharray="1 2" opacity="0.6"/>
<path d="M429.4 275.5V286" stroke="#dcdcdc" stroke-width="0.7"/>
<path d="M433.6 248.3H436.6" stroke="#d0d0d0" stroke-width="1"/>
<path d="M435.1 248.3V256.4" stroke="#dadada" stroke-width="1.4"/>
<path d="M433.1 256.4H437.1" stroke="#d4d4d4" stroke-width="0.8"/>
<path d="M435.1 256.4V266.4" stroke="#ececec" stroke-width="2.6"/>
<path d="M435.1 256.9V266.4" stroke="#7a7a7a" stroke-width="1" stroke-dasharray="1.2 1"/>
<rect x="433.8" y="266.4" width="2.6" height="9.1" fill="#34bcd0"/>
<path d="M435.1 267.4V274.5" stroke="#2a90b0" stroke-width="0.6" stroke-dasharray="1 2" opacity="0.6"/>
<path d="M435.1 275.5V286" stroke="#dcdcdc" stroke-width="0.7"/>
<path d="M438.2 248.3H441.2" stroke="#d0d0d0" stroke-width="1"/>
<path d="M439.7 248.3V256.4" stroke="#dadada" stroke-width="1.4"/>
<path d="M437.7 256.4H441.7" stroke="#d4d4d4" stroke-width="0.8"/>
<path d="M439.7 256.4V266.4" stroke="#ececec" stroke-width="2.6"/>
<path d="M439.7 256.9V266.4" stroke="#7a7a7a" stroke-width="1" stroke-dasharray="1.2 1"/>
<rect x="438.4" y="266.4" width="2.6" height="9.1" fill="#34bcd0"/>
<path d="M439.7 267.4V274.5" stroke="#2a90b0" stroke-width="0.6" stroke-dasharray="1 2" opacity="0.6"/>
<path d="M439.7 275.5V286" stroke="#dcdcdc" stroke-width="0.7"/>
<path d="M442.8 248.3H445.8" stroke="#d0d0d0" stroke-width="1"/>
<path d="M444.3 248.3V256.4" stroke="#dadada" stroke-width="1.4"/>
<path d="M442.3 256.4H446.3" stroke="#d4d4d4" stroke-width="0.8"/>
<path d="M444.3 256.4V266.4" stroke="#ececec" stroke-width="2.6"/>
<path d="M444.3 256.9V266.4" stroke="#7a7a7a" stroke-width="1" stroke-dasharray="1.2 1"/>
<rect x="443" y="266.4" width="2.6" height="9.1" fill="#34bcd0"/>
<path d="M444.3 267.4V274.5" stroke="#2a90b0" stroke-width="0.6" stroke-dasharray="1 2" opacity="0.6"/>
<path d="M444.3 275.5V286" stroke="#dcdcdc" stroke-width="0.7"/>
<path d="M448.4 248.3H451.4" stroke="#d0d0d0" stroke-width="1"/>
<path d="M449.9 248.3V256.4" stroke="#dadada" stroke-width="1.4"/>
<path d="M447.9 256.4H451.9" stroke="#d4d4d4" stroke-width="0.8"/>
<path d="M449.9 256.4V266.4" stroke="#ececec" stroke-width="2.6"/>
<path d="M449.9 256.9V266.4" stroke="#7a7a7a" stroke-width="1" stroke-dasharray="1.2 1"/>
<rect x="448.6" y="266.4" width="2.6" height="9.1" fill="#34bcd0"/>
<path d="M449.9 267.4V274.5" stroke="#2a90b0" stroke-width="0.6" stroke-dasharray="1 2" opacity="0.6"/>
<path d="M449.9 275.5V286" stroke="#dcdcdc" stroke-width="0.7"/>
<path d="M466.7 248.3H469.7" stroke="#d0d0d0" stroke-width="1"/>
<path d="M468.2 248.3V256.4" stroke="#dadada" stroke-width="1.4"/>
<path d="M466.2 256.4H470.2" stroke="#d4d4d4" stroke-width="0.8"/>
<path d="M468.2 256.4V266.4" stroke="#ececec" stroke-width="2.6"/>
<path d="M468.2 256.9V266.4" stroke="#7a7a7a" stroke-width="1" stroke-dasharray="1.2 1"/>
<rect x="466.9" y="266.4" width="2.6" height="9.1" fill="#34bcd0"/>
<path d="M468.2 267.4V274.5" stroke="#2a90b0" stroke-width="0.6" stroke-dasharray="1 2" opacity="0.6"/>
<path d="M468.2 275.5V286" stroke="#dcdcdc" stroke-width="0.7"/>
<path d="M484.3 248.3H487.3" stroke="#d0d0d0" stroke-width="1"/>
<path d="M485.8 248.3V256.4" stroke="#dadada" stroke-width="1.4"/>
<path d="M483.8 256.4H487.8" stroke="#d4d4d4" stroke-width="0.8"/>
<path d="M485.8 256.4V266.4" stroke="#ececec" stroke-width="2.6"/>
<path d="M485.8 256.9V266.4" stroke="#7a7a7a" stroke-width="1" stroke-dasharray="1.2 1"/>
<rect x="484.5" y="266.4" width="2.6" height="9.1" fill="#34bcd0"/>
<path d="M485.8 267.4V274.5" stroke="#2a90b0" stroke-width="0.6" stroke-dasharray="1 2" opacity="0.6"/>
<path d="M485.8 275.5V286" stroke="#dcdcdc" stroke-width="0.7"/>
<path d="M378.1 80.5V107.3" stroke="#2040ff" stroke-width="1.2" fill="none"/>
<path d="M375.6 80.5H380.6M375.6 107.3H380.6" stroke="#2040ff" stroke-width="1.2" fill="none"/>
<path d="M418.9 155.1V181.4" stroke="#5a78ff" stroke-width="1.2" stroke-dasharray="1.2 1.2" fill="none"/>
<path d="M416.4 155.1H421.4M416.4 181.4H421.4" stroke="#5a78ff" stroke-width="1.2" fill="none"/>
<path d="M424.3 163.5V199.2" stroke="#3050ff" stroke-width="1.2" stroke-dasharray="1.2 1.2" fill="none"/>
<path d="M421.8 163.5H426.8M421.8 199.2H426.8" stroke="#3050ff" stroke-width="1.2" fill="none"/>
<path d="M429.5 172V200.3" stroke="#6a86ff" stroke-width="1.2" stroke-dasharray="1.2 1.2" fill="none"/>
<path d="M427 172H432M427 200.3H432" stroke="#6a86ff" stroke-width="1.2" fill="none"/>
<path d="M454.9 197.3V212.6" stroke="#3a58ff" stroke-width="1.2" fill="none"/>
<path d="M452.4 197.3H457.4M452.4 212.6H457.4" stroke="#3a58ff" stroke-width="1.2" fill="none"/>
<path d="M503.8 121.5V158.4" stroke="#5a78ff" stroke-width="1.2" fill="none"/>
<path d="M501.3 121.5H506.3M501.3 158.4H506.3" stroke="#5a78ff" stroke-width="1.2" fill="none"/>
<path d="M521.5 78.6V105.6" stroke="#3a58ff" stroke-width="1.2" fill="none"/>
<path d="M519 78.6H524M519 105.6H524" stroke="#3a58ff" stroke-width="1.2" fill="none"/>
<path d="M539.4 73.3V108.2" stroke="#3050ff" stroke-width="1.2" fill="none"/>
<path d="M536.9 73.3H541.9M536.9 108.2H541.9" stroke="#3050ff" stroke-width="1.2" fill="none"/>
<polyline points="378.1,94.1 418.9,167.9 424.3,181 429.5,186 454.9,204.7 503.8,139.8 521.5,92 539.4,90.3" fill="none" stroke="#1a3cff" stroke-width="2.0" stroke-linejoin="round"/>
<rect x="375.1" y="91.1" width="6" height="6" fill="#0010ff" stroke="#2a2a2a" stroke-width="1.1"/>
<rect x="415.9" y="164.9" width="6" height="6" fill="#0010ff" stroke="#2a2a2a" stroke-width="1.1"/>
<rect x="421.3" y="178" width="6" height="6" fill="#0010ff" stroke="#2a2a2a" stroke-width="1.1"/>
<rect x="426.5" y="183" width="6" height="6" fill="#0010ff" stroke="#2a2a2a" stroke-width="1.1"/>
<rect x="451.9" y="201.7" width="6" height="6" fill="#0010ff" stroke="#2a2a2a" stroke-width="1.1"/>
<rect x="500.8" y="136.8" width="6" height="6" fill="#0010ff" stroke="#2a2a2a" stroke-width="1.1"/>
<rect x="518.5" y="89" width="6" height="6" fill="#0010ff" stroke="#2a2a2a" stroke-width="1.1"/>
<rect x="536.4" y="87.3" width="6" height="6" fill="#0010ff" stroke="#2a2a2a" stroke-width="1.1"/>
<path d="M378.1 227.6V249.9" stroke="#b8b8b8" stroke-width="0.9" stroke-dasharray="1 0.6" fill="none"/>
<path d="M376.1 227.6H380.1M376.1 249.9H380.1" stroke="#b8b8b8" stroke-width="0.9" fill="none"/>
<path d="M418.9 42.6V150" stroke="#c0c0c0" stroke-width="0.9" stroke-dasharray="1 0.6" fill="none"/>
<path d="M416.9 150H420.9" stroke="#b8b8b8" stroke-width="0.9" fill="none"/>
<path d="M424.3 116.3V200.5" stroke="#b8b8b8" stroke-width="0.9" stroke-dasharray="1 0.6" fill="none"/>
<path d="M422.3 116.3H426.3M422.3 200.5H426.3" stroke="#b8b8b8" stroke-width="0.9" fill="none"/>
<path d="M429.4 119.1V201" stroke="#b8b8b8" stroke-width="0.9" stroke-dasharray="1 0.6" fill="none"/>
<path d="M427.4 119.1H431.4M427.4 201H431.4" stroke="#b8b8b8" stroke-width="0.9" fill="none"/>
<path d="M455 42.6V115.2" stroke="#c0c0c0" stroke-width="0.9" stroke-dasharray="1 0.6" fill="none"/>
<path d="M453 115.2H457" stroke="#b8b8b8" stroke-width="0.9" fill="none"/>
<path d="M503.6 234.2V253.4" stroke="#b8b8b8" stroke-width="0.9" stroke-dasharray="1 0.6" fill="none"/>
<path d="M501.6 234.2H505.6M501.6 253.4H505.6" stroke="#b8b8b8" stroke-width="0.9" fill="none"/>
<path d="M521.5 229.3V261.3" stroke="#b8b8b8" stroke-width="0.9" stroke-dasharray="1 0.6" fill="none"/>
<path d="M519.5 229.3H523.5M519.5 261.3H523.5" stroke="#b8b8b8" stroke-width="0.9" fill="none"/>
<path d="M539.1 208.6V251.6" stroke="#b8b8b8" stroke-width="0.9" stroke-dasharray="1 0.6" fill="none"/>
<path d="M537.1 208.6H541.1M537.1 251.6H541.1" stroke="#b8b8b8" stroke-width="0.9" fill="none"/>
<polyline points="378.1,238.7 418.9,50.8 424.3,152.8 429.4,161 455,62.8 503.6,244.4 521.5,245.2 539.1,230.5" fill="none" stroke="#c6c6c6" stroke-width="2.0" stroke-dasharray="6.5 5" stroke-linejoin="round"/>
<path d="M378.1 235.95L380.85 238.7L378.1 241.45L375.35 238.7Z" fill="#c8c8c8" stroke="#2e2e2e" stroke-width="1.1"/>
<path d="M418.9 48.05L421.65 50.8L418.9 53.55L416.15 50.8Z" fill="#c8c8c8" stroke="#2e2e2e" stroke-width="1.1"/>
<path d="M424.3 150.05L427.05 152.8L424.3 155.55L421.55 152.8Z" fill="#c8c8c8" stroke="#2e2e2e" stroke-width="1.1"/>
<path d="M429.4 158.25L432.15 161L429.4 163.75L426.65 161Z" fill="#c8c8c8" stroke="#2e2e2e" stroke-width="1.1"/>
<path d="M455 60.05L457.75 62.8L455 65.55L452.25 62.8Z" fill="#c8c8c8" stroke="#2e2e2e" stroke-width="1.1"/>
<path d="M503.6 241.65L506.35 244.4L503.6 247.15L500.85 244.4Z" fill="#c8c8c8" stroke="#2e2e2e" stroke-width="1.1"/>
<path d="M521.5 242.45L524.25 245.2L521.5 247.95L518.75 245.2Z" fill="#c8c8c8" stroke="#2e2e2e" stroke-width="1.1"/>
<path d="M539.1 227.75L541.85 230.5L539.1 233.25L536.35 230.5Z" fill="#c8c8c8" stroke="#2e2e2e" stroke-width="1.1"/>
<circle cx="418" cy="185.9" r="1.12" fill="#111"/>
<circle cx="418" cy="189.7" r="1.12" fill="#111"/>
<circle cx="424.9" cy="202.3" r="1.12" fill="#111"/>
<circle cx="424.9" cy="206.2" r="1.12" fill="#111"/>
<circle cx="424.9" cy="210.1" r="1.12" fill="#111"/>
<circle cx="431.6" cy="203" r="1.12" fill="#111"/>
<circle cx="431.6" cy="206.9" r="1.12" fill="#111"/>
<circle cx="431.6" cy="210.8" r="1.12" fill="#111"/>
<circle cx="455.8" cy="219.1" r="1.12" fill="#111"/>
<circle cx="455.8" cy="222.8" r="1.12" fill="#111"/>
<circle cx="455.8" cy="226.6" r="1.12" fill="#111"/>
<circle cx="513.9" cy="141.7" r="1.12" fill="#111"/>
<circle cx="513.9" cy="145.2" r="1.12" fill="#111"/>
</svg></body></html>
